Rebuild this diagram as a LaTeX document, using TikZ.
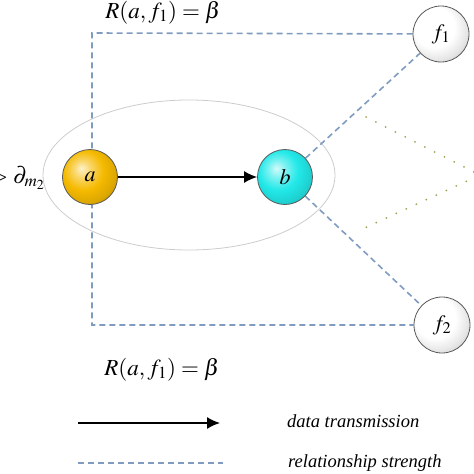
\documentclass[tikz,border=0pt]{standalone}
\usepackage{mathptmx}
\usepackage{fontspec}
\setmainfont{Liberation Serif}
\usetikzlibrary{arrows.meta,backgrounds}
\definecolor{relc}{HTML}{7F9CC0}
\definecolor{goldc}{HTML}{F5BA00}
\definecolor{aquac}{HTML}{22E8E8}
\definecolor{olivec}{HTML}{9FA35A}
\colorlet{ballc}{white}
\pgfdeclareradialshading[ballc]{shiny}{\pgfpoint{-8bp}{8bp}}{color(0bp)=(ballc!20!white);color(8bp)=(ballc!60!white);color(18bp)=(ballc);color(28bp)=(ballc!90!black);color(40bp)=(ballc!70!black);color(52bp)=(ballc!50!black);color(70bp)=(ballc!45!black)}
\begin{document}
\begin{tikzpicture}[x=1pt,y=-1pt,
 ball/.style={circle,draw=black!65,line width=.8pt,minimum size=55pt,inner sep=0pt,shading=shiny,font=\fontsize{22}{26}\selectfont},
 fillc/.code={\colorlet{ballc}{#1}},
 rel/.style={draw=relc,line width=1.6pt,dash pattern=on 6pt off 4pt},
 dots/.style={draw=olivec,line width=2pt,line cap=round,dash pattern=on 0pt off 11pt},
 lbl/.style={inner sep=0pt,font=\fontsize{23}{27}\selectfont},
 leg/.style={inner sep=0pt,font=\fontsize{18.5}{22}\selectfont\itshape}]
\useasboundingbox(0,0)rectangle(474,474);\clip(0,0)rectangle(474,474);
\node[ball,fillc=goldc](a)at(90,177){$a$};
\node[ball,fillc=aquac](b)at(285,177){$b$};
\node[ball,fillc=white,minimum size=56pt](f1)at(441,34){$f_1$};
\node[ball,fillc=white,minimum size=56pt](f2)at(442,325){$f_2$};
\coordinate(tl)at(92,33);\coordinate(bl)at(92,325);
\coordinate(d1)at(366,117);\coordinate(tip)at(480,175);\coordinate(d2)at(358,231);
\begin{scope}[on background layer]
\draw[black!20,line width=.8pt](189,175)ellipse[x radius=146,y radius=75];
\draw[rel](f1)--(tl)--(bl)--(f2);
\draw[rel](b)--(f1);\draw[rel](b)--(f2);
\draw[dots](d1)--(tip)--(d2);
\end{scope}
\draw[-{Latex[length=13pt,width=12pt]},line width=1.5pt](a)--(b);
\node[lbl,anchor=base](rtop)at(163,18){$R(a,f_1)=\beta$};
\node[lbl,anchor=base](rbot)at(162,375){$R(a,f_1)=\beta$};
\node[lbl,anchor=base east](dm)at(45,183){$>\partial_{m_2}$};
\coordinate(l1a)at(78,423);\coordinate(l1b)at(220,423);
\coordinate(l2a)at(78,463);\coordinate(l2b)at(223,463);
\draw[-{Latex[length=13pt,width=12pt]},line width=1.5pt](l1a)--(l1b);
\draw[rel](l2a)--(l2b);
\node[leg,anchor=base west](dt)at(287,427){data transmission};
\node[leg,anchor=base west](rs)at(288,467){relationship strength};
\end{tikzpicture}
\end{document}
